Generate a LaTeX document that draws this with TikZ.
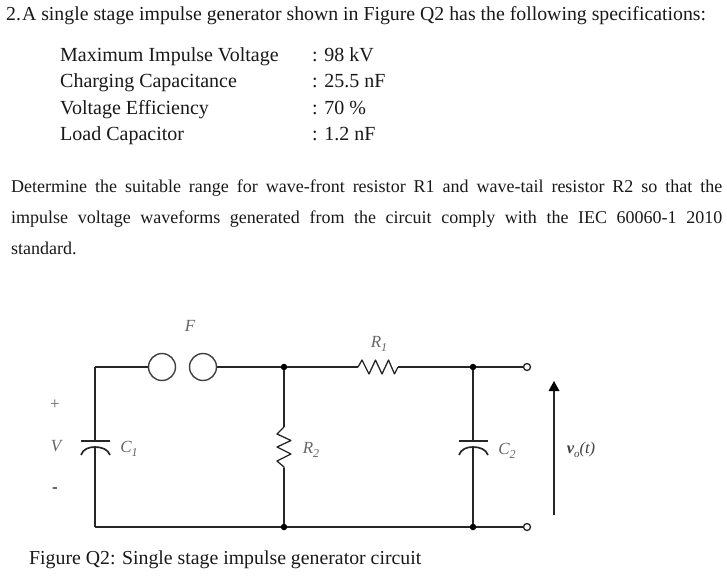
\documentclass[tikz,border=0pt]{standalone}
\usepackage{fontspec}
\setmainfont{Liberation Serif}
\newcommand{\lowsub}[1]{\raisebox{-4.5pt}{\fontsize{12}{12}\selectfont #1}}
\begin{document}
\begin{tikzpicture}[x=1pt,y=-1pt,
  wire/.style={line width=1.7pt,color=black!85},
  thinwire/.style={line width=1.3pt,color=black!85},
  dot/.style={circle,fill=black,inner sep=0pt,minimum size=6.5pt},
  term/.style={circle,draw=black!85,fill=white,line width=1.3pt,inner sep=0pt,minimum size=7pt},
  gap/.style={circle,draw=black!75,fill=white,line width=1.4pt,inner sep=0pt,minimum size=27pt},
  txt/.style={anchor=base west,inner sep=0pt,font=\fontsize{20}{22}\selectfont,text=black!90},
  lab/.style={inner sep=0pt,font=\fontsize{17}{18}\selectfont\itshape,text=black!60}]
\useasboundingbox (0,0) rectangle (727,575);
\fill[white] (0,0) rectangle (727,575);
% texts
\node[txt,font=\fontsize{19.8}{22}\selectfont] (title) at (6,20.5) {2.\hspace{1pt}A single stage impulse generator shown in Figure Q2 has the following specifications:};
\node[txt] (s1) at (60,62) {Maximum Impulse Voltage};
\node[txt] (s2) at (60,88) {Charging Capacitance};
\node[txt] (s3) at (60,114) {Voltage Efficiency};
\node[txt] (s4) at (60,140) {Load Capacitor};
\node[txt] (v1) at (312,62) {: 98 kV};
\node[txt] (v2) at (312,88) {: 25.5 nF};
\node[txt] (v3) at (312,114) {: 70 \%};
\node[txt] (v4) at (312,140) {: 1.2 nF};
\node[anchor=north west,inner sep=0pt,text width=711pt,align=justify,font=\fontsize{18}{31}\selectfont,text=black!90] (para) at (11,180)
 {Determine the suitable range for wave-front resistor R1 and wave-tail resistor R2 so that the\linebreak impulse voltage waveforms generated from the circuit comply with the IEC 60060-1 2010\linebreak standard.};
\node[txt,font=\fontsize{19.8}{22}\selectfont] (cap) at (29,564) {Figure Q2: Single stage impulse generator circuit};
% circuit nodes
\coordinate (tl) at (95,367);
\coordinate (bl) at (95,527);
\node[gap] (f1) at (162,367) {};
\node[gap] (f2) at (203,367) {};
\node[dot] (ja) at (284,367) {};
\node[dot] (jb) at (284,527) {};
\node[dot] (jc) at (473,367) {};
\node[dot] (jd) at (473,527) {};
\node[term] (ta) at (527,367) {};
\node[term] (tb) at (527,527) {};
\coordinate (r1a) at (358,367);
\coordinate (r1b) at (398,367);
\coordinate (r2a) at (284,427);
\coordinate (r2b) at (284,468);
\coordinate (c1a) at (95,441);
\coordinate (c1b) at (95,447);
\coordinate (c2a) at (473,441);
\coordinate (c2b) at (473,447);
\coordinate (va) at (554,515);
\coordinate (vb) at (554,386);
% wires
\draw[thinwire] (tl) -- (f1);
\draw[thinwire] (f2) -- (ja) -- (r1a);
\draw[thinwire] (r1b) -- (jc) -- (ta);
\draw[wire] (ja) -- (r2a);
\draw[wire] (r2b) -- (jb);
\draw[wire] (jc) -- (c2a);
\draw[wire] (c2b) -- (jd);
\draw[wire] (tl) -- (c1a);
\draw[wire] (c1b) -- (bl);
\draw[wire] (bl) -- (jb) -- (jd) -- (tb);
% resistors
\draw[thinwire,line join=round] (r1a) -- ++(4,-7) -- ++(7,14) -- ++(6.5,-14) -- ++(6.5,14) -- ++(6.5,-14) -- ++(6,14) -- (r1b);
\draw[thinwire,line join=round] (r2a) -- ++(-7,7) -- ++(14,6.5) -- ++(-14,6.5) -- ++(14,7) -- ++(-14,7) -- ++(7,6) -- (r2b);
% capacitors
\draw[wire] (81,441) -- (110,441);
\draw[wire] (81,455) .. controls (83,449) and (89,447) .. (c1b) .. controls (101,447) and (108,449) .. (110,455);
\draw[wire] (459,441) -- (488,441);
\draw[wire] (459,455) .. controls (461,449) and (467,447) .. (c2b) .. controls (479,447) and (486,449) .. (488,455);
% voltage arrow
\draw[line width=1.2pt,black!85] (va) -- (vb);
\fill[black] (554,381) -- (559.5,391) -- (548.5,391) -- cycle;
% labels
\node[lab] (lF) at (190,326) {F};
\node[lab] (lR1) at (379,344) {R\lowsub{\itshape 1}};
\node[lab] (lR2) at (311,450) {R\lowsub{2}};
\node[lab] (lC1) at (129,449) {C\lowsub{\itshape 1}};
\node[lab] (lC2) at (507,451) {C\lowsub{2}};
\node[lab] (lV) at (56,446) {V};
\node[lab,font=\fontsize{17}{18}\selectfont] (lp) at (55,405) {+};
\node[lab,font=\fontsize{17}{18}\selectfont\bfseries,text=black!80] (lm) at (55,490) {-};
\node[lab,text=black!75,font=\fontsize{16.5}{18}\selectfont\itshape] (lvo) at (581,450) {\textbf{v}\raisebox{-3.5pt}{\fontsize{11}{11}\selectfont o}(t)};
\end{tikzpicture}
\end{document}
